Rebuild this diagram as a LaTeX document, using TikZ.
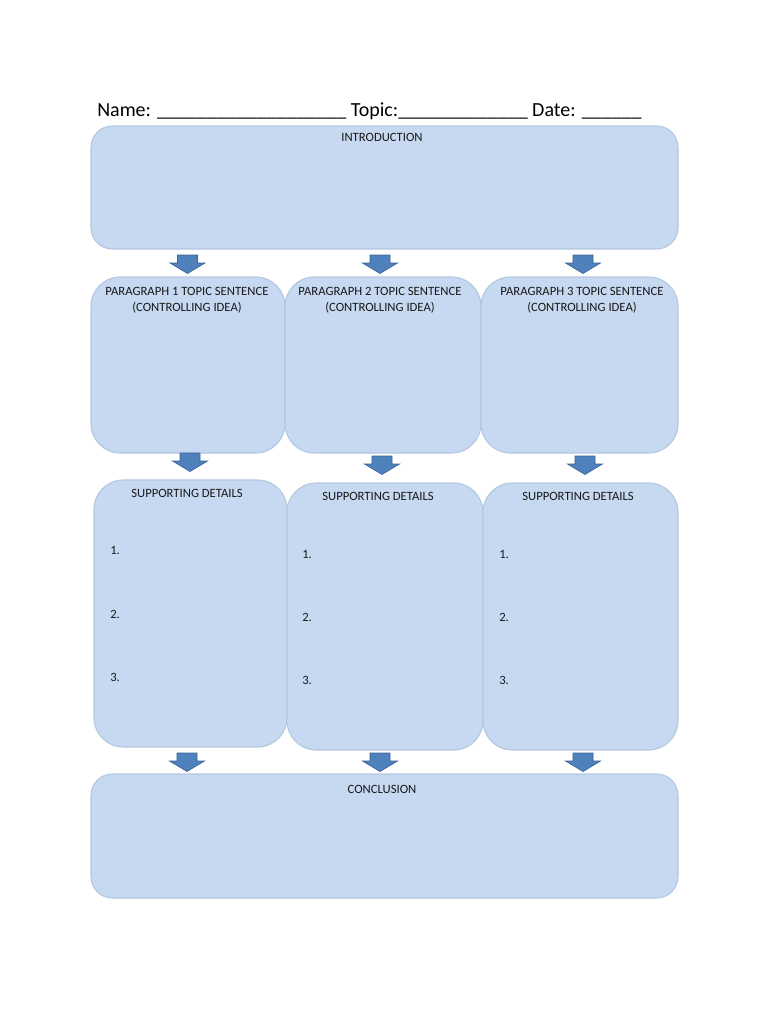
\documentclass[tikz,border=0pt]{standalone}
\usepackage{fontspec}
\setmainfont{Carlito}
\definecolor{boxfill}{HTML}{C6D9F1}
\definecolor{boxline}{HTML}{B3C7E1}
\definecolor{arrfill}{HTML}{4F81BD}
\definecolor{arrline}{HTML}{3A6496}
\newcommand\blockdown[3]{% #1 name, #2 centre x, #3 top y
  \draw[arrowst] (#2-10,#3) -- (#2+10,#3) -- (#2+10,#3+8) -- (#2+17.5,#3+8)
    -- (#2,#3+18.5) -- (#2-17.5,#3+8) -- (#2-10,#3+8) -- cycle;
  \coordinate (#1) at (#2,#3+9);}
\begin{document}
\begin{tikzpicture}[x=0.75pt,y=-0.75pt,
  box/.style={draw=boxline, fill=boxfill, line width=0.8pt, inner sep=0pt},
  wide/.style={box, rounded corners=16pt, minimum width=587*0.75pt, minimum height=123*0.75pt},
  col/.style={box, rounded corners=22pt},
  arrowst/.style={draw=arrline, fill=arrfill, line width=0.5pt, line join=miter},
  lbl/.style={font=\fontsize{9.5}{12}\selectfont, text=black!90, align=center, inner sep=0pt},
  num/.style={font=\fontsize{9.5}{12}\selectfont, text=black!90, anchor=west, inner sep=0pt}]
\useasboundingbox (0,0) rectangle (768,1024);
\fill[white] (0,0) rectangle (768,1024);

% header
\node[anchor=base west, inner sep=0pt, font=\fontsize{15}{18}\selectfont] (hdr) at (97,117)
  {Name: \_\_\_\_\_\_\_\_\_\_\_\_\_\_\_\_\_\_\_ Topic:\_\_\_\_\_\_\_\_\_\_\_\_\_ Date: \_\_\_\_\_\_};

% introduction
\node[wide] (intro) at (384.5,187.5) {};
\node[lbl] (introt) at (382,137) {INTRODUCTION};

% arrows row 1
\blockdown{a1}{187.5}{255}
\blockdown{a2}{380}{255}
\blockdown{a3}{583}{255}

% paragraph boxes
\node[col, minimum width=194*0.75pt, minimum height=176*0.75pt] (p1) at (188,365) {};
\node[col, minimum width=196*0.75pt, minimum height=176*0.75pt] (p2) at (383,365) {};
\node[col, minimum width=197*0.75pt, minimum height=176*0.75pt] (p3) at (579.5,365) {};
\node[lbl] (p1t) at (187,300) {PARAGRAPH 1 TOPIC SENTENCE\\(CONTROLLING IDEA)};
\node[lbl] (p2t) at (380,300) {PARAGRAPH 2 TOPIC SENTENCE\\(CONTROLLING IDEA)};
\node[lbl] (p3t) at (582,300) {PARAGRAPH 3 TOPIC SENTENCE\\(CONTROLLING IDEA)};

% arrows row 2
\blockdown{b1}{190}{453}
\blockdown{b2}{382}{456}
\blockdown{b3}{585}{456}

% supporting details
\node[col, minimum width=193*0.75pt, minimum height=267*0.75pt] (s1) at (190.5,613.5) {};
\node[col, minimum width=196*0.75pt, minimum height=267*0.75pt] (s2) at (385,616.5) {};
\node[col, minimum width=195*0.75pt, minimum height=267*0.75pt] (s3) at (580.5,616.5) {};
\node[lbl] (s1t) at (187,493) {SUPPORTING DETAILS};
\node[lbl] (s2t) at (378,496) {SUPPORTING DETAILS};
\node[lbl] (s3t) at (578,496) {SUPPORTING DETAILS};
\node[num] (s1a) at (110,550) {1.};
\node[num] (s1b) at (110,614) {2.};
\node[num] (s1c) at (110,677) {3.};
\node[num] (s2a) at (302,554) {1.};
\node[num] (s2b) at (302,617) {2.};
\node[num] (s2c) at (302,680) {3.};
\node[num] (s3a) at (499,554) {1.};
\node[num] (s3b) at (499,617) {2.};
\node[num] (s3c) at (499,680) {3.};

% arrows row 3
\blockdown{c1}{187}{753}
\blockdown{c2}{380}{753}
\blockdown{c3}{583}{753}

% conclusion
\node[wide, minimum height=124*0.75pt] (concl) at (384.5,836) {};
\node[lbl] (conclt) at (382,789) {CONCLUSION};
\end{tikzpicture}
\end{document}
